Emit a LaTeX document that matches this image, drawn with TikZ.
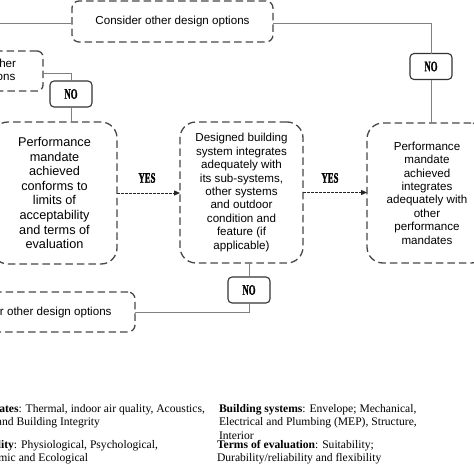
\documentclass[tikz,border=0pt]{standalone}
\usepackage{fontspec}
\setmainfont{Liberation Serif}
\newfontfamily\arialf{Liberation Sans}
\newfontfamily\yesf[FakeBold=1.6]{Liberation Serif Bold}
\usetikzlibrary{arrows.meta}
\newcommand\yesno[1]{\scalebox{0.6}[1]{\yesf\fontsize{14.5}{14.5}\selectfont #1}}
\begin{document}
\begin{tikzpicture}[x=1pt,y=-1pt,
  dbox/.style={draw=black!72, line width=1.3pt, dash pattern=on 7.5pt off 4pt,
    rounded corners=#1, align=center, inner sep=0pt, outer sep=0pt,
    font=\arialf\fontsize{11.6}{13.4}\selectfont},
  dbox/.default=14pt,
  nobox/.style={draw=black!80, line width=1.1pt, rounded corners=4pt,
    minimum width=42pt, minimum height=26pt, inner sep=0pt, outer sep=0pt},
  conn/.style={draw=black!50, line width=0.6pt},
  yesarrow/.style={draw=black!85, line width=1pt, dash pattern=on 2.5pt off 1.5pt,
    -{Triangle[length=6pt,width=5pt]}},
  lbl/.style={inner sep=0pt, outer sep=0pt},
  note/.style={inner sep=0pt, outer sep=0pt, font=\fontsize{11.6}{13.4}\selectfont}
]
\useasboundingbox (0,0) rectangle (474,474);
\clip (0,0) rectangle (474,474);
\fill[white] (0,0) rectangle (474,474);

% boxes
\node[dbox=7pt, minimum width=201pt, minimum height=41pt] (top) at (172.5,21.5)
  {Consider other design options};
\node[dbox=6pt, minimum width=130pt, minimum height=40pt] (small) at (-22,71)
  {Consider other\\design options};
\node[dbox=16pt, minimum width=125pt, minimum height=142pt,
  font=\arialf\fontsize{12.7}{14.6}\selectfont] (lbox) at (54.5,193)
  {Performance\\mandate\\achieved\\conforms to\\limits of\\acceptability\\and terms of\\evaluation};
\node[dbox=16pt, minimum width=123pt, minimum height=141pt] (mbox) at (241.5,192.5)
  {Designed building\\system integrates\\adequately with\\its sub-systems,\\other systems\\and outdoor\\condition and\\feature (if\\applicable)};
\node[dbox=16pt, minimum width=120pt, minimum height=140pt] (rbox) at (427,193)
  {Performance\\mandate\\achieved\\integrates\\adequately with\\other\\performance\\mandates};
\node[dbox=7pt, minimum width=201pt, minimum height=40pt] (bbox) at (34.5,312)
  {Consider other design options};

% NO boxes
\node[nobox] (noL) at (71,94) {\yesno{NO}};
\node[nobox] (noR) at (431,66.5) {\yesno{NO}};
\node[nobox] (noB) at (249,290) {\yesno{NO}};

% connectors
\coordinate (farleft) at (-20,23);
\draw[conn] (top.west |- farleft) -- (farleft);
\draw[conn] (noR.north) |- ([yshift=-1.5pt]top.east);
\draw[conn] (noR.south) -- (noR.south |- rbox.north);
\draw[conn] (noL.north) |- ([yshift=-2pt]small.east);
\draw[conn] (noL.south) -- (noL.south |- lbox.north);
\draw[conn] (noB.north) -- (noB.north |- mbox.south);
\draw[conn] (noB.south) |- (bbox.east);

% YES arrows
\draw[yesarrow] (lbox.east) -- (mbox.west |- lbox.east);
\draw[yesarrow] (mbox.east) -- (rbox.west |- mbox.east);
\node[lbl] (yes1) at (147,178) {\yesno{YES}};
\node[lbl] (yes2) at (330,178) {\yesno{YES}};

% notes
\node[note, anchor=mid east] (n1) at (205,410)
  {\textbf{Performance mandates}: Thermal, indoor air quality, Acoustics,};
\node[note, anchor=mid east] (n2) at (100,423)
  {Visual, Lighting and Building Integrity};
\node[note, anchor=mid east] (n3) at (158,446)
  {\textbf{Limits of acceptability}: Physiological, Psychological,};
\node[note, anchor=mid east] (n4) at (88,459)
  {Sociological, Economic and Ecological};
\node[note, anchor=mid west] (r1) at (219,410)
  {\textbf{Building systems}: Envelope; Mechanical,};
\node[note, anchor=mid west] (r2) at (219,423)
  {Electrical and Plumbing (MEP), Structure,};
\node[note, anchor=mid west] (r3) at (219,437) {Interior};
\node[note, anchor=mid west] (r4) at (217,446)
  {\textbf{Terms of evaluation}: Suitability;};
\node[note, anchor=mid west] (r5) at (217,459)
  {Durability/reliability and flexibility};
\end{tikzpicture}
\end{document}
